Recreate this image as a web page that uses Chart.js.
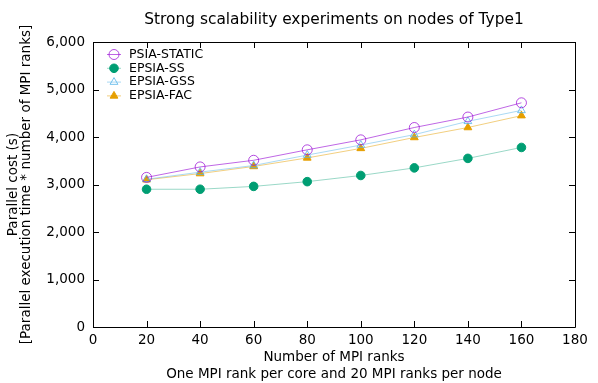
<!DOCTYPE html>
<html>
<head>
<meta charset="utf-8">
<script src="https://cdn.jsdelivr.net/npm/chart.js@4"></script>
<style>
  html, body { margin: 0; padding: 0; background: #fff; }
  #wrap { width: 598px; height: 383px; }
</style>
</head>
<body>
<div id="wrap"><canvas id="grafico" width="598" height="383"></canvas></div>
<script>
// datos
const rangos = [20, 40, 60, 80, 100, 120, 140, 160];
const psiaStatic = [3150, 3370, 3510, 3730, 3940, 4200, 4420, 4720];
const epsiaSS = [2900, 2900, 2960, 3060, 3190, 3350, 3550, 3780];
const epsiaGSS = [3110, 3260, 3400, 3620, 3830, 4050, 4330, 4560];
const epsiaFAC = [3100, 3230, 3380, 3560, 3760, 3990, 4200, 4450];
const ticksX = [0, 20, 40, 60, 80, 100, 120, 140, 160, 180];
const ticksY = [0, 1000, 2000, 3000, 4000, 5000, 6000];
const TITULO = 'Strong scalability experiments on nodes of Type1';

const FUENTE = "'DejaVu Sans', sans-serif";

function puntos(valores) {
    return rangos.map((x, i) => ({ x: x, y: valores[i] }));
}

const series = [
    { label: 'PSIA-STATIC', data: puntos(psiaStatic), borderColor: 'rgba(148,0,211,0.6)', pointBorderColor: 'rgba(148,0,211,0.7)', pointBackgroundColor: 'rgba(0,0,0,0)', pointStyle: 'circle', pointRadius: 5 },
    { label: 'EPSIA-SS', data: puntos(epsiaSS), borderColor: 'rgba(0,158,115,0.4)', pointBorderColor: '#009e73', pointBackgroundColor: '#009e73', pointStyle: 'circle', pointRadius: 4.3 },
    { label: 'EPSIA-GSS', data: puntos(epsiaGSS), borderColor: 'rgba(86,180,233,0.5)', pointBorderColor: 'rgba(86,180,233,0.8)', pointBackgroundColor: 'rgba(0,0,0,0)', pointStyle: 'triangle', pointRadius: 4.5 },
    { label: 'EPSIA-FAC', data: puntos(epsiaFAC), borderColor: 'rgba(230,159,0,0.5)', pointBorderColor: '#e69f00', pointBackgroundColor: '#e69f00', pointStyle: 'triangle', pointRadius: 4.5 }
];

// marco + ticks hacia adentro (estilo gnuplot), titulo centrado sobre el area y leyenda dentro
const marcoPlugin = {
    id: 'marco',
    afterDraw(chart) {
        const ctx = chart.ctx;
        const a = chart.chartArea;
        const sx = chart.scales.x, sy = chart.scales.y;
        ctx.save();
        ctx.strokeStyle = '#000';
        ctx.lineWidth = 1;
        ctx.beginPath();
        ctx.rect(Math.round(a.left) + 0.5, Math.round(a.top) + 0.5, Math.round(a.right - a.left), Math.round(a.bottom - a.top));
        ctx.stroke();
        ctx.beginPath();
        ticksX.forEach(v => {
            const px = Math.round(sx.getPixelForValue(v)) + 0.5;
            ctx.moveTo(px, a.bottom); ctx.lineTo(px, a.bottom - 6);
            ctx.moveTo(px, a.top); ctx.lineTo(px, a.top + 6);
        });
        ticksY.forEach(v => {
            const py = Math.round(sy.getPixelForValue(v)) + 0.5;
            ctx.moveTo(a.left, py); ctx.lineTo(a.left + 6, py);
            ctx.moveTo(a.right, py); ctx.lineTo(a.right - 6, py);
        });
        ctx.stroke();

        // titulo
        ctx.fillStyle = '#000';
        ctx.font = '15.4px ' + FUENTE;
        ctx.textAlign = 'center';
        ctx.textBaseline = 'middle';
        ctx.fillText(TITULO, (a.left + a.right) / 2, 19.5);

        // leyenda
        ctx.font = '12.5px ' + FUENTE;
        ctx.textAlign = 'left';
        chart.data.datasets.forEach((ds, i) => {
            const y = a.top + 12.5 + i * 13.8;
            const cx = a.left + 21;
            ctx.strokeStyle = ds.borderColor;
            ctx.beginPath();
            ctx.moveTo(cx - 7, y); ctx.lineTo(cx + 7, y);
            ctx.stroke();
            ctx.fillStyle = ds.pointBackgroundColor;
            ctx.strokeStyle = ds.pointBorderColor;
            ctx.beginPath();
            if (ds.pointStyle === 'circle') {
                ctx.arc(cx, y, ds.pointRadius, 0, Math.PI * 2);
            } else {
                const r = ds.pointRadius;
                ctx.moveTo(cx, y - r); ctx.lineTo(cx + r * 0.87, y + r * 0.5); ctx.lineTo(cx - r * 0.87, y + r * 0.5); ctx.closePath();
            }
            ctx.fill();
            ctx.stroke();
            ctx.fillStyle = '#000';
            ctx.fillText(ds.label, a.left + 36, y);
        });
        ctx.restore();
    }
};

new Chart(document.getElementById('grafico'), {
    type: 'line',
    data: {
        datasets: series.map(s => Object.assign({
            borderWidth: 1,
            pointBorderWidth: 1,
            pointHoverRadius: s.pointRadius,
            fill: false,
            tension: 0
        }, s))
    },
    options: {
        responsive: false,
        animation: false,
        layout: { padding: { top: 42, right: 23, left: 0, bottom: 0 } },
        plugins: {
            legend: { display: false },
            tooltip: { enabled: false },
            title: { display: false }
        },
        scales: {
            x: {
                type: 'linear',
                min: 0, max: 180,
                afterBuildTicks: s => { s.ticks = ticksX.map(v => ({ value: v })); },
                afterFit: s => { s.height = 56; },
                grid: { display: false, drawTicks: false },
                border: { display: false },
                ticks: { color: '#000', font: { family: FUENTE, size: 13.5 }, padding: 5, maxRotation: 0 },
                title: {
                    display: true,
                    text: ['Number of MPI ranks', 'One MPI rank per core and 20 MPI ranks per node'],
                    color: '#000',
                    font: { family: FUENTE, size: 13.5, lineHeight: 1.25 },
                    padding: { top: 0, bottom: 0 }
                }
            },
            y: {
                min: 0, max: 6000,
                afterBuildTicks: s => { s.ticks = ticksY.map(v => ({ value: v })); },
                afterFit: s => { s.width = 93; },
                grid: { display: false, drawTicks: false },
                border: { display: false },
                ticks: {
                    color: '#000',
                    font: { family: FUENTE, size: 13.5 },
                    padding: 8,
                    callback: v => v.toLocaleString('en-US')
                },
                title: {
                    display: true,
                    text: ['Parallel cost (s)', '[Parallel execution time * number of MPI ranks]'],
                    color: '#000',
                    font: { family: FUENTE, size: 13.5, lineHeight: 0.95 },
                    padding: { top: 6.9, bottom: 0 }
                }
            }
        }
    },
    plugins: [marcoPlugin]
});
</script>
</body>
</html>
